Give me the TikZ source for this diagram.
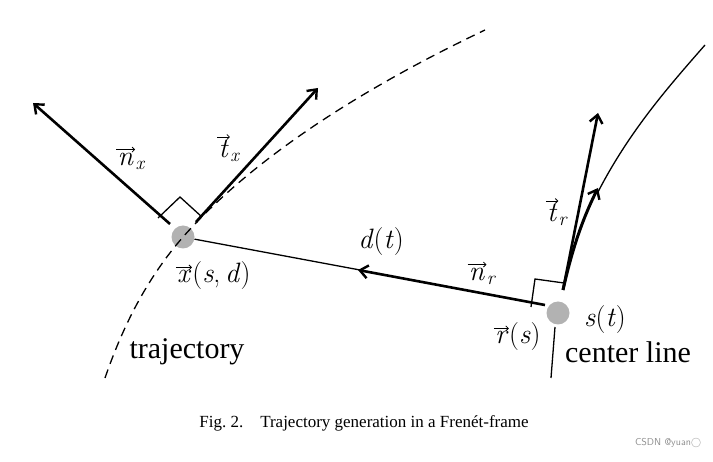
\documentclass[tikz,border=0pt]{standalone}
\usepackage{fontspec}
\setmainfont{Liberation Serif}
\newfontfamily\lmr{Latin Modern Roman}
\usetikzlibrary{arrows.meta}
\newcommand{\vv}[1]{\tikz[baseline=(v.base)]{\node[inner sep=0pt] (v) {#1};\draw[line width=0.8pt,-{Straight Barb[length=2.5pt,width=5pt,line width=0.8pt]}] ([yshift=3pt,xshift=-1pt]v.north west) -- ([yshift=3pt,xshift=2pt]v.north east);}}
\begin{document}
\begin{tikzpicture}[x=1pt,y=-1pt,
  vec/.style={line width=2.6pt,-{Straight Barb[length=8pt,width=13pt,line width=2.4pt]}},
  pt/.style={circle,fill=black!30,minimum size=23pt,inner sep=0pt},
  lbl/.style={font=\lmr\fontsize{28}{30}\selectfont},
  txt/.style={font=\fontsize{30}{32}\selectfont}]
\useasboundingbox (0,0) rectangle (713,462);
\node[pt] (X) at (183,237) {};
\node[pt] (S) at (558,313) {};
\draw[line width=1.3pt,dash pattern=on 9pt off 6pt] (105,378) .. controls (125,320) and (150,275) .. (X.center) .. controls (260,150) and (380,80) .. (485,30);
\draw[line width=1.3pt] (551,378) -- (555,327);
\draw[line width=1.3pt] (598,192) .. controls (630,130) and (670,85) .. (705,45);
\draw[line width=3pt,-{Straight Barb[length=8pt,width=13pt,line width=2.4pt]}] (563,290) .. controls (572,250) and (582,220) .. (598,188);
\coordinate (trt) at (598,113);
\draw[vec] (563,290) -- (trt);
\draw[line width=1.3pt] (X) -- (360,270);
\coordinate (nrt) at (358,270);
\draw[vec] (545,305) -- (nrt);
\draw[line width=1.3pt] (531,307) -- (535,279) -- (564,283);
\coordinate (nxt) at (33,103);
\coordinate (txt) at (318,88);
\draw[vec] (170,224) -- (nxt);
\draw[vec] (196,222) -- (txt);
\draw[line width=1.3pt] (158,218) -- (180,197) -- (202,217);
\node[lbl] (lnx) at (130,158) {\vv{\itshape n}\raisebox{-4pt}{\fontsize{19}{19}\selectfont\itshape x}};
\node[lbl] (ltx) at (228,148) {\vv{\itshape t}\raisebox{-4pt}{\fontsize{19}{19}\selectfont\itshape x}};
\node[lbl] (lx) at (213,276) {\vv{\itshape x}(\textit{s},\,\textit{d})};
\node[lbl] (ld) at (381,242) {\textit{d}(\textit{t})};
\node[lbl] (lnr) at (481,273) {\vv{\itshape n}\raisebox{-4pt}{\fontsize{19}{19}\selectfont\itshape r}};
\node[lbl] (ltr) at (556,212) {\vv{\itshape t}\raisebox{-4pt}{\fontsize{19}{19}\selectfont\itshape r}};
\node[lbl] (lr) at (517,337) {\vv{\itshape r}(\textit{s})};
\node[lbl] (ls) at (605,320) {\textit{s}(\textit{t})};
\node[txt] (ltr2) at (187,352) {trajectory};
\node[txt] (lcl) at (628,352) {center line};
\node[font=\fontsize{17}{19}\selectfont] (cap) at (364,423) {Fig.~2.\quad Trajectory generation in a Frenét-frame};
\node[font=\sffamily\fontsize{10}{11}\selectfont,text=black!45] (wm) at (668,443) {CSDN @yuan$\bigcirc$};
\end{tikzpicture}
\end{document}
